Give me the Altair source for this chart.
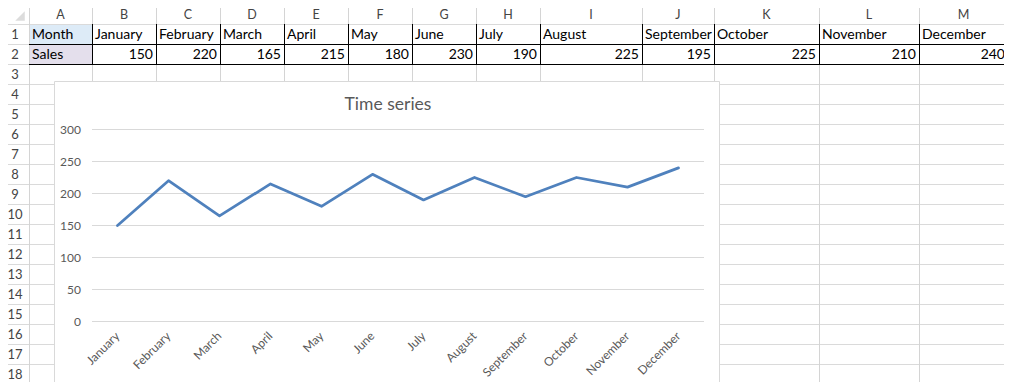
import altair as alt
import pandas as pd

# ---------------- data ----------------
months = ["January", "February", "March", "April", "May", "June", "July",
          "August", "September", "October", "November", "December"]
sales = [150, 220, 165, 215, 180, 230, 190, 225, 195, 225, 210, 240]
y_ticks = [0, 50, 100, 150, 200, 250, 300]
col_letters = ["A", "B", "C", "D", "E", "F", "G", "H", "I", "J", "K", "L", "M"]
row_numbers = list(range(1, 19))
row_labels = ["Month", "Sales"]
chart_title = "Time series"

# ---------------- layout (reference-screen pixels) ----------------
OFF = 8                      # page margin
W, H = 996, 374
col_edges = [29, 92, 156, 220, 284, 348, 412, 476, 540, 642, 714, 819, 919, 1008]
head_h = 24
row_h = 20
box = (54.5, 81.5, 719.5, 385.5)
plot_x0, plot_x1 = 92, 704
plot_y0, plot_y300 = 321.5, 129.5
FONT = "Lato"

SX = alt.Scale(domain=[OFF, OFF + W], range=[0, W], nice=False, zero=False)
SY = alt.Scale(domain=[OFF, OFF + H], range=[0, H], nice=False, zero=False)


def px(f):
    return alt.X(f"{f}:Q", scale=SX, axis=None)


def py(f):
    return alt.Y(f"{f}:Q", scale=SY, axis=None)


# ---------------- sheet tables ----------------
hlines = pd.DataFrame({
    "x": [0] * 19, "x2": [1008] * 19,
    "y": [head_h + row_h * k + 0.5 for k in range(19)],
})
hlines["y2"] = hlines["y"]
vlines = pd.DataFrame({"x": [e + 0.5 for e in col_edges]})
vlines["x2"] = vlines["x"]
vlines["y"] = 0
vlines["y2"] = 386

fills = pd.DataFrame({
    "x": [col_edges[0] + 1, col_edges[0] + 1],
    "x2": [col_edges[1], col_edges[1]],
    "y": [head_h + 1, head_h + row_h + 1],
    "y2": [head_h + row_h, head_h + 2 * row_h],
    "c": ["#DDEBF7", "#E4DFEC"],
})

bh = pd.DataFrame({
    "x": [col_edges[0]] * 2, "x2": [col_edges[-1]] * 2,
    "y": [head_h + row_h + 0.5, head_h + 2 * row_h + 0.5],
})
bh["y2"] = bh["y"]
bv = pd.DataFrame({"x": [e + 0.5 for e in col_edges[1:]]})
bv["x2"] = bv["x"]
bv["y"] = head_h
bv["y2"] = head_h + 2 * row_h

letters = pd.DataFrame({
    "t": col_letters,
    "x": [(col_edges[i] + col_edges[i + 1]) / 2 for i in range(len(col_letters))],
    "y": [19] * len(col_letters),
})
rownums = pd.DataFrame({
    "t": [str(n) for n in row_numbers],
    "x": [15] * len(row_numbers),
    "y": [head_h + row_h * (n - 1) + row_h / 2 + 1 for n in row_numbers],
})
left_cells = pd.DataFrame({
    "t": [row_labels[0]] + months + [row_labels[1]],
    "x": [col_edges[i] + 3 for i in range(13)] + [col_edges[0] + 3],
    "y": [head_h + row_h / 2 + 1] * 13 + [head_h + row_h * 1.5 + 1],
})
right_cells = pd.DataFrame({
    "t": [str(v) for v in sales],
    "x": [col_edges[i + 2] - 3 for i in range(12)],
    "y": [head_h + row_h * 1.5 + 1] * 12,
})
box_df = pd.DataFrame({"x": [box[0]], "y": [box[1]], "x2": [box[2]], "y2": [box[3]]})
corner = pd.DataFrame({"x": [20], "y": [16]})

sheet_layers = [
    alt.Chart(hlines).mark_rule(color="#dadada", strokeWidth=1).encode(
        x=px("x"), x2="x2:Q", y=py("y"), y2="y2:Q"),
    alt.Chart(vlines).mark_rule(color="#d4d4d4", strokeWidth=1).encode(
        x=px("x"), x2="x2:Q", y=py("y"), y2="y2:Q"),
    alt.Chart(corner).mark_point(shape="M1,-1L1,1L-1,1Z", filled=True, size=90,
                                 color="#dcdcdc", opacity=1).encode(x=px("x"), y=py("y")),
    alt.Chart(fills).mark_rect().encode(
        x=px("x"), x2="x2:Q", y=py("y"), y2="y2:Q",
        color=alt.Color("c:N", scale=None)),
    alt.Chart(bh).mark_rule(color="#000000", strokeWidth=1).encode(
        x=px("x"), x2="x2:Q", y=py("y"), y2="y2:Q"),
    alt.Chart(bv).mark_rule(color="#000000", strokeWidth=1).encode(
        x=px("x"), x2="x2:Q", y=py("y"), y2="y2:Q"),
    alt.Chart(letters).mark_text(font=FONT, fontSize=12.5, color="#444444",
                                 align="center", baseline="alphabetic").encode(
        x=px("x"), y=py("y"), text="t:N"),
    alt.Chart(rownums).mark_text(font=FONT, fontSize=13, color="#444444",
                                 align="center", baseline="middle").encode(
        x=px("x"), y=py("y"), text="t:N"),
    alt.Chart(left_cells).mark_text(font=FONT, fontSize=14, color="#000000",
                                    align="left", baseline="middle").encode(
        x=px("x"), y=py("y"), text="t:N"),
    alt.Chart(right_cells).mark_text(font=FONT, fontSize=14, color="#000000",
                                     align="right", baseline="middle").encode(
        x=px("x"), y=py("y"), text="t:N"),
    alt.Chart(box_df).mark_rect(fill="#ffffff", stroke="#d9d9d9", strokeWidth=1).encode(
        x=px("x"), x2="x2:Q", y=py("y"), y2="y2:Q"),
]

# ---------------- the Excel chart ----------------
df = pd.DataFrame({"month": months, "sales": sales})
ticks = pd.DataFrame({"tick": y_ticks})
band = (plot_x1 - plot_x0) / len(months)

XS = alt.Scale(type="point", domain=months, padding=0,
               range=[plot_x0 + band / 2 - OFF, plot_x1 - band / 2 - OFF])
YS = alt.Scale(domain=[0, 300], range=[plot_y0 - OFF, plot_y300 - OFF],
               nice=False, zero=False)

grid = alt.Chart(ticks).mark_rule(color="#d9d9d9", strokeWidth=1).encode(
    y=alt.Y("tick:Q", scale=YS, axis=None),
    x=alt.value(plot_x0 - OFF), x2=alt.value(plot_x1 - OFF))

ylabels = alt.Chart(ticks).mark_text(font=FONT, fontSize=12, color="#595959",
                                     align="right", baseline="middle").encode(
    y=alt.Y("tick:Q", scale=YS, axis=None),
    x=alt.value(81 - OFF), text="tick:Q")

xlabels = alt.Chart(df).mark_text(font=FONT, fontSize=12, color="#595959",
                                  angle=315, align="right", baseline="middle").encode(
    x=alt.X("month:N", scale=XS, axis=None),
    y=alt.value(334 - OFF), text="month:N")

line = alt.Chart(df).mark_line(color="#4F81BD", strokeWidth=2.75,
                               strokeJoin="round", strokeCap="round").encode(
    x=alt.X("month:N", scale=XS, axis=None),
    y=alt.Y("sales:Q", scale=YS, axis=None))

title = alt.Chart(pd.DataFrame({"t": [chart_title]})).mark_text(
    font=FONT, fontSize=17.5, color="#595959", align="center", baseline="middle").encode(
    x=alt.value(388 - OFF), y=alt.value(105 - OFF), text="t:N")

chart = alt.layer(*sheet_layers, grid, ylabels, xlabels, line, title).resolve_scale(
    x="independent", y="independent"
).properties(
    width=W, height=H,
    autosize=alt.AutoSizeParams(type="none"),
    padding=0,
    background="#ffffff",
).configure_view(stroke=None)

chart.save("out.html", embed_options={"renderer": "svg", "actions": False})
